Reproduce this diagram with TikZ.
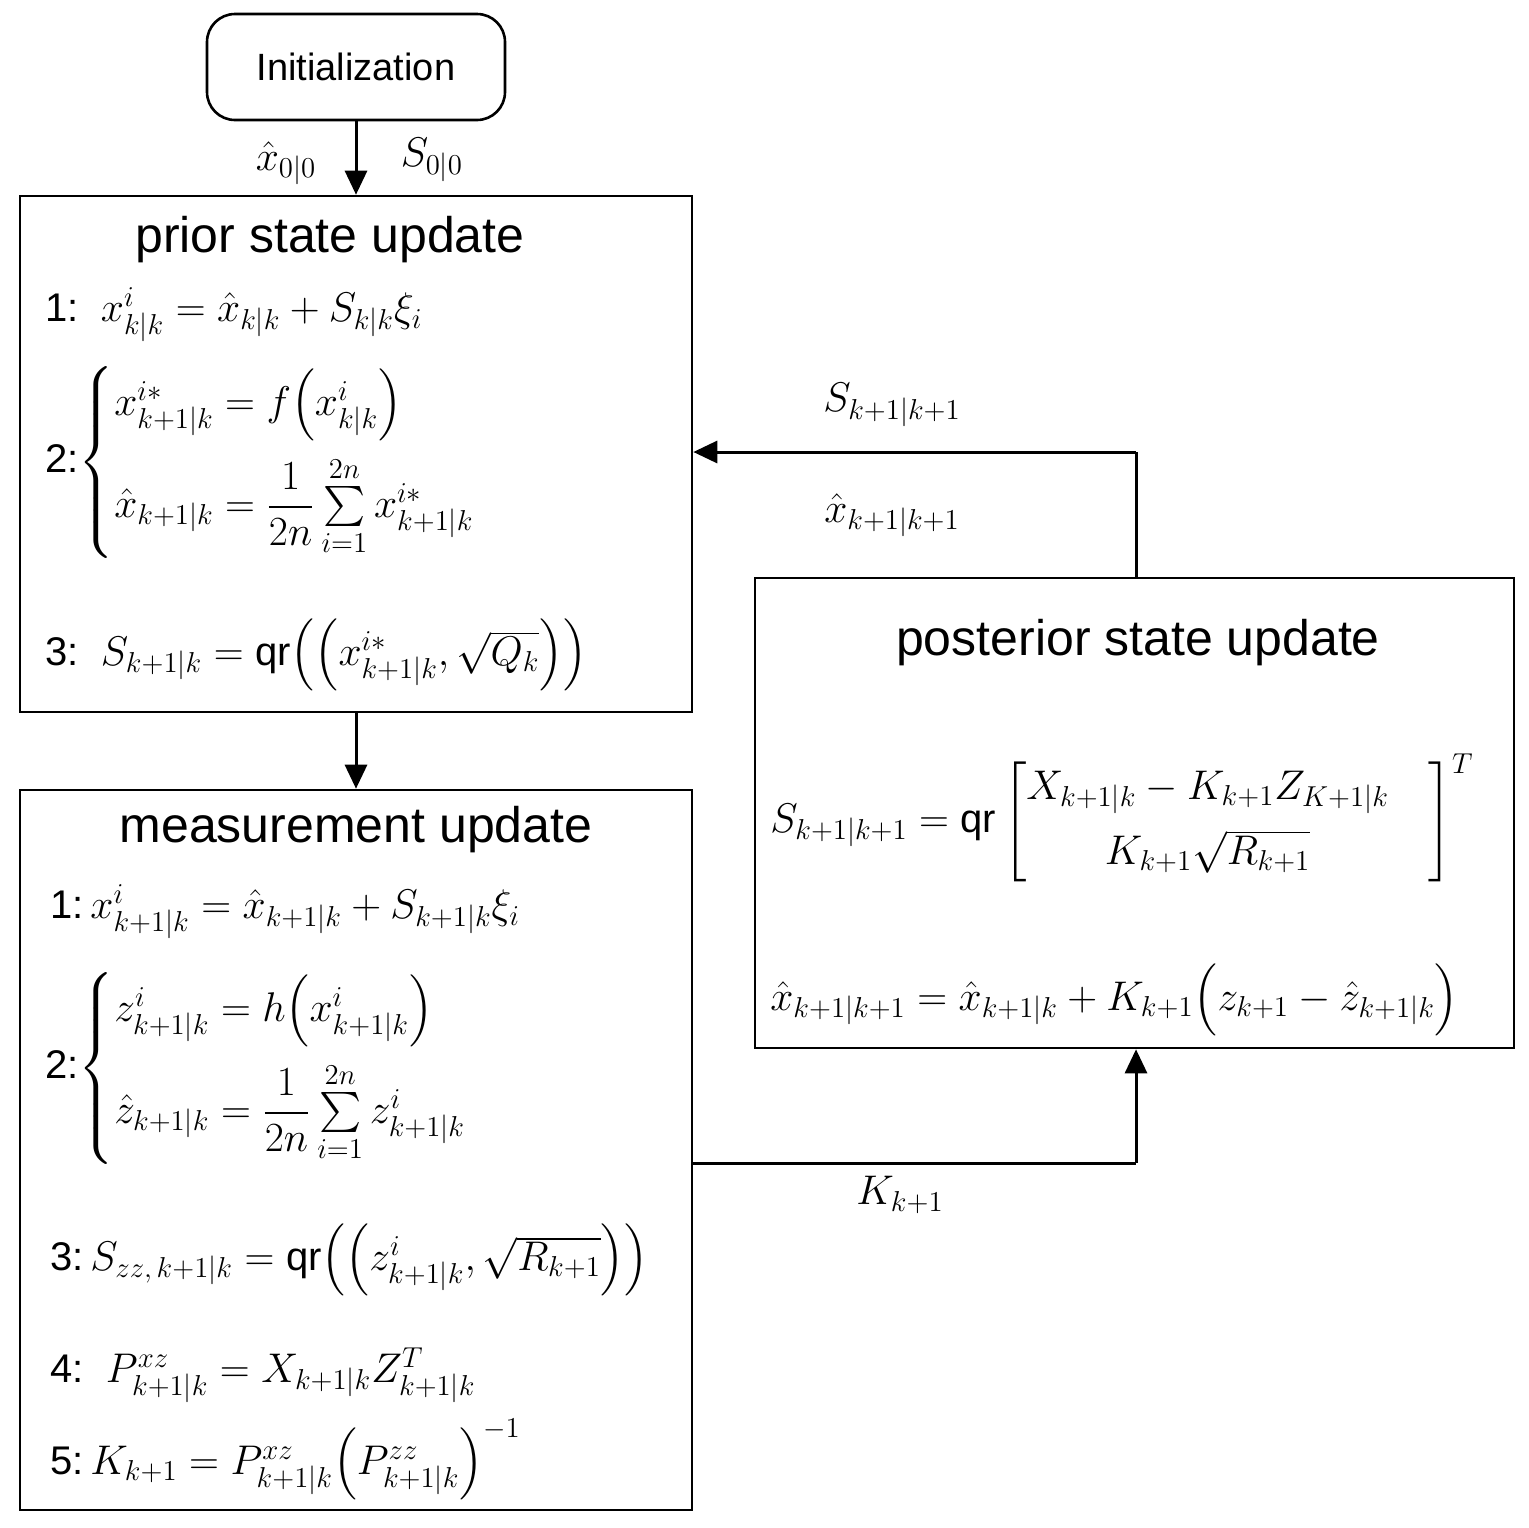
\documentclass[tikz,border=0pt]{standalone}
\usepackage{amsmath,amssymb}
\usepackage{fontspec}
\setmainfont{Liberation Sans}
\usetikzlibrary{arrows.meta}
\begin{document}
\begin{tikzpicture}[x=0.5pt,y=-0.5pt,
  box/.style={draw,line width=1.3pt},
  arr/.style={line width=1.5pt,-{Triangle[length=12pt,width=11pt]}},
  ln/.style={line width=1.5pt},
  ttl/.style={font=\fontsize{25}{29}\selectfont},
  eq/.style={anchor=west,font=\fontsize{20}{24}\selectfont,inner sep=0pt},
  lab/.style={font=\fontsize{21}{25}\selectfont}]
\useasboundingbox (0,0) rectangle (1529,1527);
% boxes
\node[box,rounded corners=14pt,minimum width=149pt,minimum height=53pt,font=\fontsize{19}{22}\selectfont] (init) at (356,67) {Initialization};
\node[box,minimum width=336pt,minimum height=258pt] (prior) at (356,454) {};
\node[box,minimum width=336pt,minimum height=360pt] (meas) at (356,1150) {};
\node[box,minimum width=379.5pt,minimum height=235pt] (post) at (1134.5,813) {};
\coordinate (fb) at (1136,452);
\coordinate (kc) at (1136,1163);
% connectors
\draw[arr] (init.south) -- (prior.north);
\draw[arr] (prior.south) -- (meas.north);
\draw[ln] (post.north -| fb) -- (fb);
\draw[arr] (fb) -- (fb -| prior.east);
\draw[ln] (kc -| meas.east) -- (kc);
\draw[arr] (kc) -- (kc |- post.south);
% labels
\node[lab] (l1) at (286,163) {$\hat{x}_{0|0}$};
\node[lab] (l2) at (432,160) {$S_{0|0}$};
\node[lab] (l3) at (892,405) {$S_{k+1|k+1}$};
\node[lab] (l4) at (892,515) {$\hat{x}_{k+1|k+1}$};
\node[lab] (l5) at (900,1195) {$K_{k+1}$};
% prior
\node[ttl] (pt) at (330,240) {prior state update};
\node[eq] (p1) at (45,315) {1:\ \ $x^{i}_{k|k}=\hat{x}_{k|k}+S_{k|k}\xi_i$};
\node[eq] (p2) at (45,462) {2:$\begin{cases} x^{i*}_{k+1|k}=f\Bigl(x^{i}_{k|k}\Bigr)\\[12pt] \hat{x}_{k+1|k}=\dfrac{1}{2n}\sum\limits_{i=1}^{2n}x^{i*}_{k+1|k}\end{cases}$};
\node[eq] (p3) at (45,655) {3:\ \ $S_{k+1|k}=\mathrm{qr}\Bigl(\Bigl(x^{i*}_{k+1|k},\sqrt{Q_k}\Bigr)\Bigr)$};
% measurement
\node[ttl] (mt) at (356,830) {measurement update};
\node[eq] (m1) at (50,912) {1:\,$x^{i}_{k+1|k}=\hat{x}_{k+1|k}+S_{k+1|k}\xi_i$};
\node[eq] (m2) at (45,1068) {2:$\begin{cases} z^{i}_{k+1|k}=h\Bigl(x^{i}_{k+1|k}\Bigr)\\[12pt] \hat{z}_{k+1|k}=\dfrac{1}{2n}\sum\limits_{i=1}^{2n}z^{i}_{k+1|k}\end{cases}$};
\node[eq] (m3) at (50,1260) {3:\,$S_{zz,\,k+1|k}=\mathrm{qr}\Bigl(\Bigl(z^{i}_{k+1|k},\sqrt{R_{k+1}}\Bigr)\Bigr)$};
\node[eq] (m4) at (50,1375) {4:\ \ $P^{xz}_{k+1|k}=X_{k+1|k}Z^{T}_{k+1|k}$};
\node[eq] (m5) at (50,1460) {5:\,$K_{k+1}=P^{xz}_{k+1|k}\Bigl(P^{zz}_{k+1|k}\Bigr)^{-1}$};
% posterior
\node[ttl] (ptt) at (1138,643) {posterior state update};
\node[eq] (q1) at (770,818) {$S_{k+1|k+1}=\mathrm{qr}\left[\begin{matrix} X_{k+1|k}-K_{k+1}Z_{K+1|k}\\[8pt] K_{k+1}\sqrt{R_{k+1}}\end{matrix}\quad\right]^{T}$};
\node[eq] (q2) at (770,1000) {$\hat{x}_{k+1|k+1}=\hat{x}_{k+1|k}+K_{k+1}\Bigl(z_{k+1}-\hat{z}_{k+1|k}\Bigr)$};
\end{tikzpicture}
\end{document}
